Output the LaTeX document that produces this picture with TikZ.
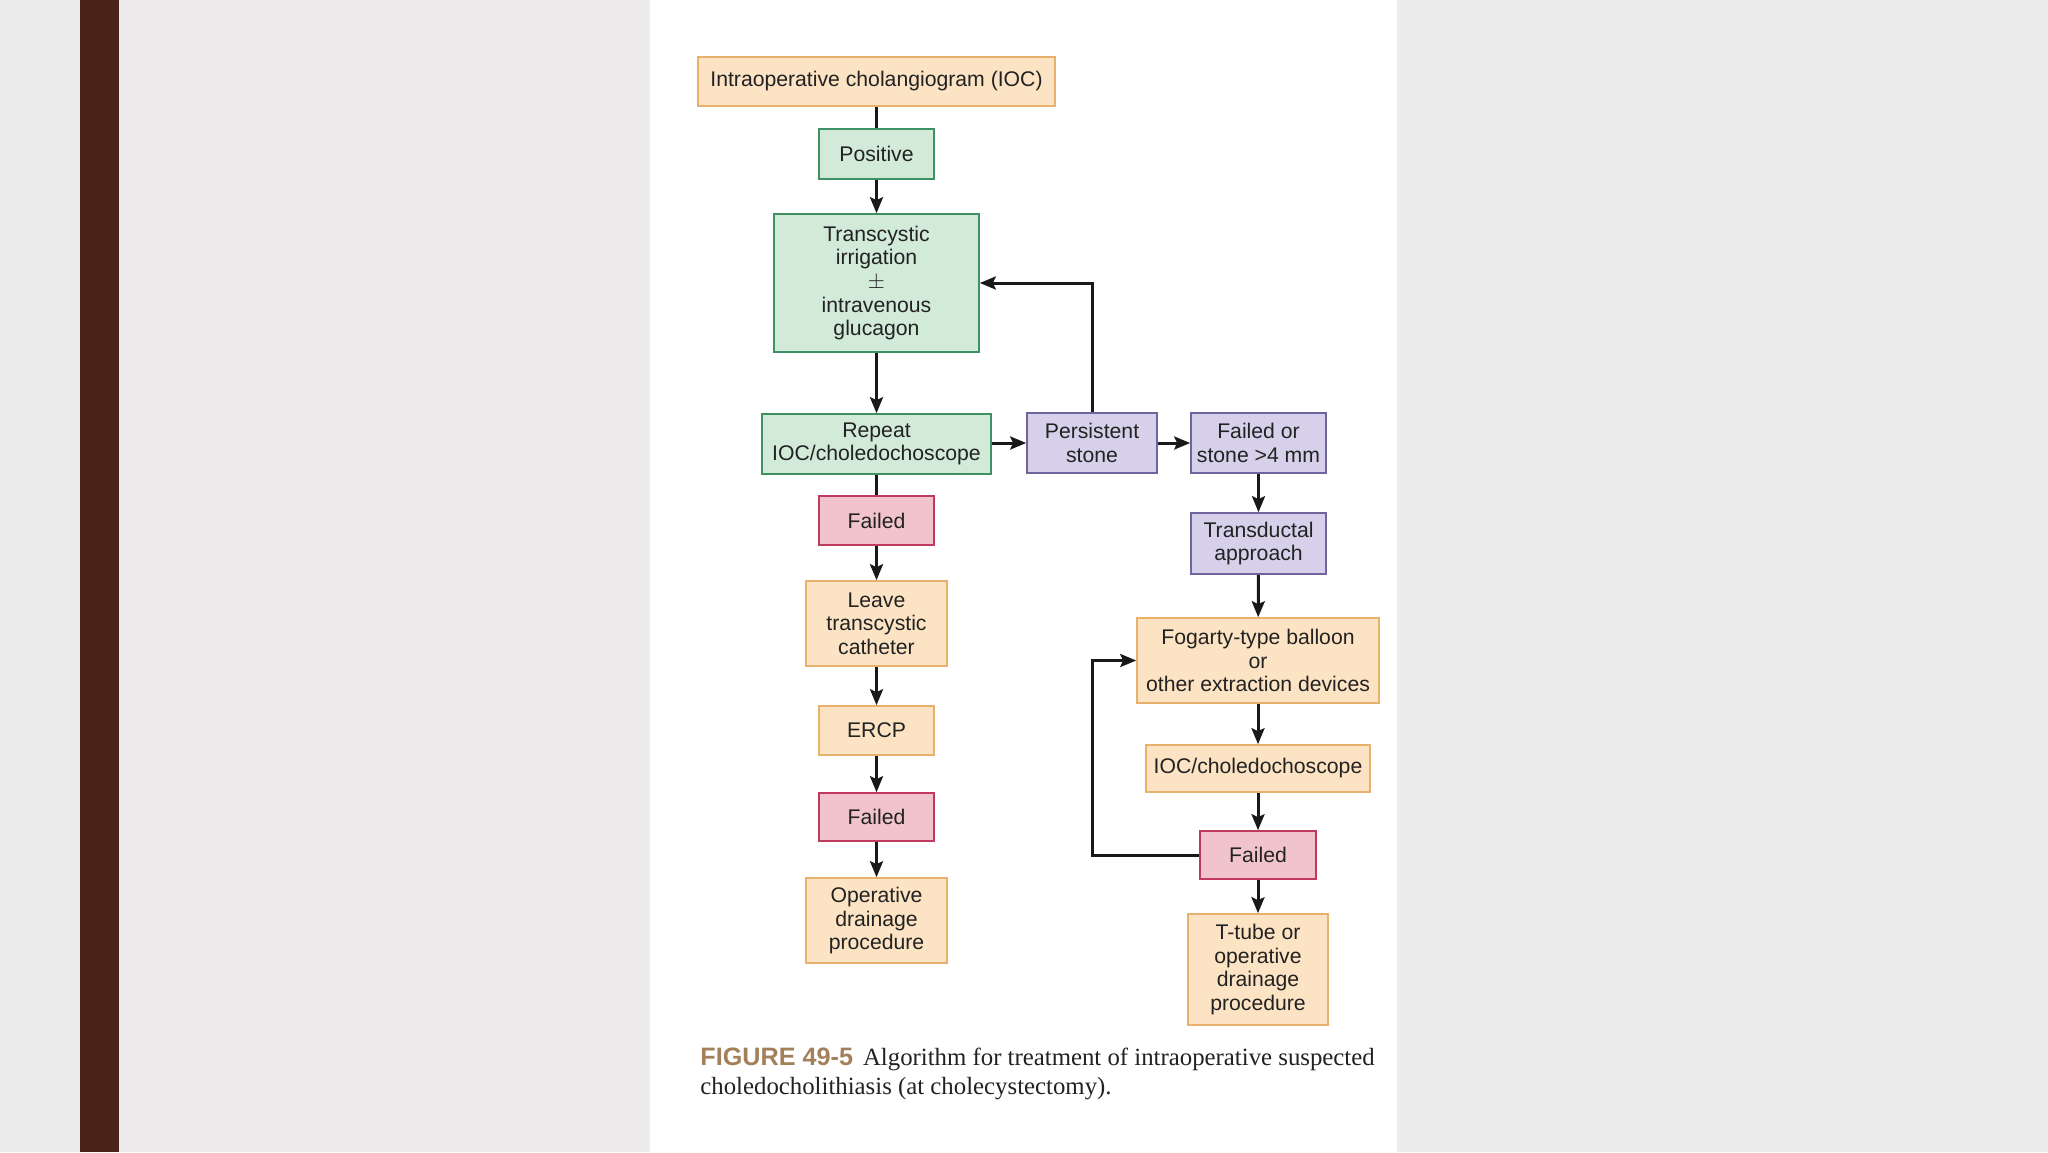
\documentclass[tikz,border=0pt]{standalone}
\usepackage{fontspec}
\setmainfont{Liberation Sans}
\newfontfamily\capserif{Liberation Serif}
\usetikzlibrary{arrows.meta}
\definecolor{bgc}{HTML}{EBEBEB}
\definecolor{panelc}{HTML}{EDEBEB}
\definecolor{barc}{HTML}{4A2218}
\definecolor{orfill}{HTML}{FCE3C4}
\definecolor{ordraw}{HTML}{E9B26C}
\definecolor{grfill}{HTML}{D2EAD8}
\definecolor{grdraw}{HTML}{3F9064}
\definecolor{pufill}{HTML}{D6D0EA}
\definecolor{pudraw}{HTML}{6F649E}
\definecolor{pkfill}{HTML}{F1C4CC}
\definecolor{pkdraw}{HTML}{BF3A5E}
\definecolor{txt}{HTML}{222222}
\definecolor{figc}{HTML}{A3805A}
\tikzset{
  box/.style={draw, line width=0.8pt, inner sep=0pt, align=center, text=txt,
    font=\fontsize{10.6pt}{11.85pt}\selectfont},
  obox/.style={box, fill=orfill, draw=ordraw},
  gbox/.style={box, fill=grfill, draw=grdraw},
  pbox/.style={box, fill=pufill, draw=pudraw},
  kbox/.style={box, fill=pkfill, draw=pkdraw},
  link/.style={line width=1.5pt, draw=black!90},
  arr/.style={link, -{Stealth[length=8pt,width=6.5pt,inset=1.5pt]}},
}
\begin{document}
\begin{tikzpicture}[x=0.5pt,y=-0.5pt]
\useasboundingbox (0,0) rectangle (2048,1152);
\fill[bgc] (0,0) rectangle (2048,1152);
\fill[panelc] (119,0) rectangle (650,1152);
\fill[barc] (80,0) rectangle (119,1152);
\fill[white] (650,0) rectangle (1397,1152);

\node[obox, minimum width=178.5pt, minimum height=24.5pt] (ioc) at (876.5,81.5) {Intraoperative cholangiogram (IOC)};
\node[gbox, minimum width=57.5pt, minimum height=25pt] (pos) at (876.5,154) {Positive};
\node[gbox, minimum width=102.5pt, minimum height=69pt] (trans) at (876.5,283) {Transcystic\\irrigation\\$\pm$\\intravenous\\glucagon};
\node[gbox, minimum width=114.5pt, minimum height=30pt] (rep) at (876.5,444) {Repeat\\IOC/choledochoscope};
\node[pbox, minimum width=65pt, minimum height=30pt] (pers) at (1092,443) {Persistent\\stone};
\node[pbox, minimum width=67.5pt, minimum height=30pt] (fo) at (1258.5,443) {Failed or\\stone >4 mm};
\node[pbox, minimum width=67.5pt, minimum height=30.5pt] (td) at (1258.5,543.5) {Transductal\\approach};
\node[kbox, minimum width=57.5pt, minimum height=24.5pt] (f1) at (876.5,520.5) {Failed};
\node[obox, minimum width=70.5pt, minimum height=42.5pt] (leave) at (876.5,623.5) {Leave\\transcystic\\catheter};
\node[obox, minimum width=57.5pt, minimum height=24.5pt] (ercp) at (876.5,730.5) {ERCP};
\node[kbox, minimum width=57.5pt, minimum height=24pt] (f2) at (876.5,817) {Failed};
\node[obox, minimum width=70.5pt, minimum height=42.5pt] (op) at (876.5,920.5) {Operative\\drainage\\procedure};
\node[obox, minimum width=121pt, minimum height=42.5pt] (fog) at (1258,660.5) {Fogarty-type balloon\\or\\other extraction devices};
\node[obox, minimum width=112pt, minimum height=23.5pt] (ioc2) at (1258,768.5) {IOC/choledochoscope};
\node[kbox, minimum width=58pt, minimum height=24pt] (f3) at (1258,855) {Failed};
\node[obox, minimum width=70pt, minimum height=55.5pt] (tt) at (1258,969.5) {T-tube or\\operative\\drainage\\procedure};

\draw[link] (ioc) -- (pos);
\draw[arr] (pos) -- (trans);
\draw[arr] (trans) -- (rep);
\draw[link] (rep) -- (f1);
\draw[arr] (f1) -- (leave);
\draw[arr] (leave) -- (ercp);
\draw[arr] (ercp) -- (f2);
\draw[arr] (f2) -- (op);
\draw[arr] (rep.east |- pers.west) -- (pers.west);
\draw[arr] (pers) -- (fo);
\draw[arr] (pers.north) |- (trans.east);
\draw[arr] (fo) -- (td);
\draw[arr] (td) -- (fog);
\draw[arr] (fog) -- (ioc2);
\draw[arr] (ioc2) -- (f3);
\draw[arr] (f3) -- (tt);
\draw[arr] (f3.west) -- (f3.west -| pers.north) |- (fog.west);

\node[anchor=base west, inner sep=0pt, text=txt] (cap1) at (700,1065)
  {{\color{figc}\fontsize{12.6pt}{14pt}\selectfont\bfseries FIGURE 49-5}\hspace{5pt}{\capserif\fontsize{12.4pt}{14pt}\selectfont Algorithm for treatment of intraoperative suspected}};
\node[anchor=base west, inner sep=0pt, text=txt] (cap2) at (700,1094)
  {\capserif\fontsize{12.4pt}{14pt}\selectfont choledocholithiasis (at cholecystectomy).};
\end{tikzpicture}
\end{document}
